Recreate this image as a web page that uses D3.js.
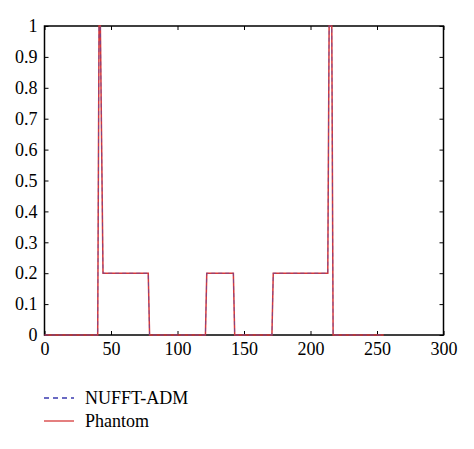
<!DOCTYPE html><html><head><meta charset="utf-8"><script src="https://cdn.jsdelivr.net/npm/d3@7"></script>
<style>body{margin:0;background:#fff}text{font-family:"Liberation Serif","DejaVu Serif",serif}</style></head><body>
<svg id="c" width="474" height="449"></svg>
<script>
const xs=[0,40,41,42,44,78,79,121,122,142,143,171,172,213,214,216,217,255];
const phantom=[0,0,1,1,0.2,0.2,0,0,0.2,0.2,0,0,0.2,0.2,1,1,0,0];
const nufft=[0,0,1,1,0.2,0.2,0,0,0.2,0.2,0,0,0.2,0.2,1,1,0,0];
const xTicks=[0,50,100,150,200,250,300];
const yTicks=[0,0.1,0.2,0.3,0.4,0.5,0.6,0.7,0.8,0.9,1];
const seriesNames=["NUFFT-ADM","Phantom"];
const svg=d3.select("#c");
const L=44.5,R=443.5,T=26,B=335;
const x=d3.scaleLinear().domain([0,300]).range([L,R]);
const y=d3.scaleLinear().domain([0,1]).range([B,T]);
const fmt=d=>d===0||d===1?String(d):d3.format(".1f")(d);
svg.append("g").attr("transform",`translate(0,${B})`).call(d3.axisBottom(x).tickValues(xTicks).tickSizeInner(-4).tickSizeOuter(0).tickPadding(7)).call(g=>{g.select(".domain").remove();g.selectAll("text").attr("font-size",18).attr("font-family","Liberation Serif");});
svg.append("g").attr("transform",`translate(${L},0)`).call(d3.axisLeft(y).tickValues(yTicks).tickFormat(fmt).tickSizeInner(-4).tickSizeOuter(0).tickPadding(7)).call(g=>{g.select(".domain").remove();g.selectAll("text").attr("font-size",18).attr("font-family","Liberation Serif");});
svg.append("g").attr("transform",`translate(0,${T})`).call(d3.axisTop(x).tickValues(xTicks).tickFormat("").tickSizeInner(-4).tickSizeOuter(0)).select(".domain").remove();
svg.append("g").attr("transform",`translate(${R},0)`).call(d3.axisRight(y).tickValues(yTicks).tickFormat("").tickSizeInner(-4).tickSizeOuter(0)).select(".domain").remove();
svg.append("rect").attr("x",L).attr("y",T).attr("width",R-L).attr("height",B-T).attr("fill","none").attr("stroke","#000").attr("stroke-width",1.5);
const line=d3.line().x((d,i)=>x(xs[i])).y(d=>y(d));
svg.append("path").datum(phantom).attr("d",line).attr("fill","none").attr("stroke","#d63a3a").attr("stroke-width",1.5);
svg.append("path").datum(nufft).attr("d",line).attr("fill","none").attr("stroke","#4a4ab8").attr("stroke-width",1).attr("stroke-dasharray","4,3").attr("opacity",0.6);
const leg=[{n:seriesNames[0],c:"#3a3ab0",d:"5,4"},{n:seriesNames[1],c:"#d63a3a",d:null}];
leg.forEach((l,i)=>{const yy=398+i*23;
svg.append("line").attr("x1",44).attr("x2",74).attr("y1",yy).attr("y2",yy).attr("stroke",l.c).attr("stroke-width",1.3).attr("stroke-dasharray",l.d);
svg.append("text").attr("x",85).attr("y",yy+6).attr("font-size",18).text(l.n);});
</script></body></html>
